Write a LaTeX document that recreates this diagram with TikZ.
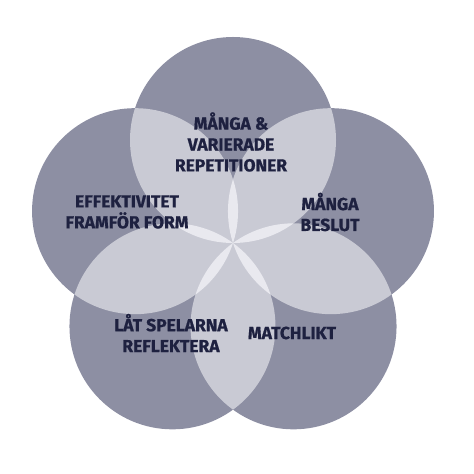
\documentclass[tikz,border=0pt]{standalone}
\usepackage{fontspec}
\setmainfont{Fira Sans}[BoldFeatures={FakeBold=0.8}]
\usepackage{xcolor}
\definecolor{ringgrey}{RGB}{141,143,163}
\definecolor{lensgrey}{RGB}{201,202,212}
\definecolor{petalgrey}{RGB}{233,233,239}
\definecolor{labelnavy}{RGB}{30,33,64}
\usetikzlibrary{calc}

\begin{document}
\begin{tikzpicture}[x=1bp, y=1bp,
    word/.style={font=\bfseries\fontsize{17.5}{21}\selectfont, text=labelnavy, align=center, inner sep=0pt}]
    \useasboundingbox (0,0) rectangle (474,474);
    \coordinate (M) at (233,231);
    \foreach \k in {0,...,4}
        \coordinate (c\k) at ($(M)+({90+72*\k}:103)$);

    % plain circles
    \foreach \k in {0,...,4}
        \fill[ringgrey] (c\k) circle (103);
    % neighbours overlap
    \foreach \k [evaluate=\k as \n using {int(mod(\k+1,5))}] in {0,...,4} {
        \begin{scope}
            \clip (c\k) circle (103);
            \fill[lensgrey] (c\n) circle (103);
        \end{scope}
    }
    % thin petals in the middle
    \foreach \k [evaluate=\k as \n using {int(mod(\k+2,5))}] in {0,...,4} {
        \begin{scope}
            \clip (c\k) circle (103);
            \fill[petalgrey] (c\n) circle (103);
        \end{scope}
    }

    \node[word] (reps) at (231,332) {MÅNGA \&\\VARIERADE\\REPETITIONER};
    \node[word] (effekt) at (127,262) {EFFEKTIVITET\\FRAMFÖR FORM};
    \node[word] (beslut) at (330,262) {MÅNGA\\BESLUT};
    \node[word] (reflekt) at (171,141) {LÅT SPELARNA\\REFLEKTERA};
    \node[word] (match) at (292,141) {MATCHLIKT};
\end{tikzpicture}
\end{document}
